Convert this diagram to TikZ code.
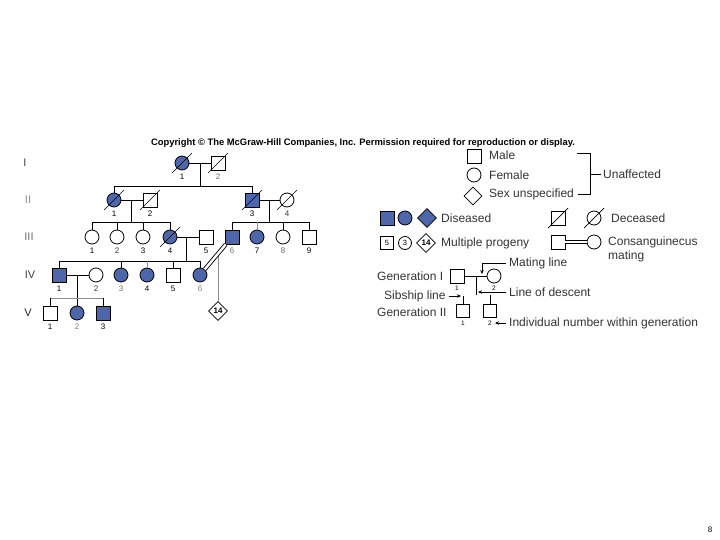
\documentclass[tikz,border=0pt]{standalone}
\usepackage{fontspec}
\setmainfont{Liberation Sans}
\usetikzlibrary{shapes.geometric,arrows.meta}
\definecolor{dis}{RGB}{78,102,170}
\tikzset{x=1pt,y=-1pt,
  male/.style={draw,rectangle,minimum size=14pt,inner sep=0pt,line width=.8pt,fill=white},
  fem/.style={draw,circle,minimum size=14pt,inner sep=0pt,line width=.8pt,fill=white},
  unk/.style={draw,diamond,minimum size=19pt,inner sep=0pt,line width=.8pt,fill=white},
  sick/.style={fill=dis},
  dead/.style={append after command={(\tikzlastnode.center)+(-10,10) edge[line width=.7pt] +(10,-10)}},
  num/.style={font=\fontsize{8}{9}\selectfont,inner sep=0pt},
  keynum/.style={font=\fontsize{6.5}{7}\selectfont,inner sep=0pt},
  lab/.style={font=\fontsize{12}{14}\selectfont,inner sep=0pt,anchor=west,text=black!80},
  gen/.style={font=\fontsize{11}{12}\selectfont,inner sep=0pt,text=black!75},
  line/.style={line width=.9pt},
  thin line/.style={line width=.6pt,black!45},
  tip/.style={line width=.6pt,-{Stealth[length=4pt,width=3.5pt]},shorten <=3pt}}
\begin{document}
\begin{tikzpicture}
\useasboundingbox (0,0) rectangle (720,540);
\node[font=\fontsize{9.4}{11}\selectfont\bfseries,inner sep=0pt] (copy) at (363,143) {Copyright © The McGraw-Hill Companies, Inc. Permission required for reproduction or display.};
\foreach \t/\x/\y/\n/\c in {I/25/163/a/75,II/28/200/b/45,III/29/237/c/55,IV/30/275/d/75,V/28/313/e/85}
  \node[gen,text=black!\c] (gen\n) at (\x,\y) {\t};
% coordinates for the junctions
\coordinate (a0) at (200,163); \coordinate (a1) at (200,186);
\coordinate (a2) at (114,186); \coordinate (a3) at (252,186);
\coordinate (b0) at (131,200); \coordinate (b1) at (131,222);
\coordinate (b2) at (92,222);  \coordinate (b3) at (170,222);
\coordinate (b4) at (269,200); \coordinate (b5) at (269,222);
\coordinate (b6) at (232,222); \coordinate (b7) at (309,222);
\coordinate (c0) at (186,237); \coordinate (c1) at (186,261);
\coordinate (c2) at (59,261);  \coordinate (c3) at (200,261);
\coordinate (d0) at (77,275);  \coordinate (d1) at (77,298);
\coordinate (d2) at (50,298);  \coordinate (d3) at (103,298);
\coordinate (e0) at (218,254);
% generation I
\node[fem,sick,dead] (i1) at (182,163) {};
\node[male,dead] (i2) at (218,163) {};
% generation II
\node[fem,sick,dead] (ii1) at (114,200) {};
\node[male,dead] (ii2) at (150,200) {};
\node[male,sick,dead] (ii3) at (252,200) {};
\node[fem,dead] (ii4) at (287,200) {};
% generation III
\node[fem] (iii1) at (92,237) {};
\node[fem] (iii2) at (117,237) {};
\node[fem] (iii3) at (143,237) {};
\node[fem,sick,dead] (iii4) at (170,237) {};
\node[male] (iii5) at (206,237) {};
\node[male,sick] (iii6) at (232,237) {};
\node[fem,sick] (iii7) at (257,237) {};
\node[fem] (iii8) at (283,237) {};
\node[male] (iii9) at (309,237) {};
% generation IV
\node[male,sick] (iv1) at (59,275) {};
\node[fem] (iv2) at (96,275) {};
\node[fem,sick] (iv3) at (121,275) {};
\node[fem,sick] (iv4) at (147,275) {};
\node[male] (iv5) at (173,275) {};
\node[fem,sick] (iv6) at (200,275) {};
% generation V
\node[male] (v1) at (50,313) {};
\node[fem,sick] (v2) at (77,313) {};
\node[male,sick] (v3) at (103,313) {};
\node[unk,font=\fontsize{8}{9}\selectfont\bfseries] (v4) at (218,311) {14};
% numbers
\foreach \m/\t/\c in {i1/1/100,i2/2/60,ii1/1/100,ii2/2/100,ii3/3/100,ii4/4/80,iii1/1/100,iii2/2/80,iii3/3/100,iii4/4/100,iii5/5/100,iii6/6/55,iii7/7/100,iii8/8/60,iii9/9/100,iv1/1/100,iv2/2/80,iv3/3/55,iv4/4/100,iv5/5/100,iv6/6/50,v1/1/100,v2/2/50,v3/3/100}
  \node[num,text=black!\c] (n\m) at ([yshift=-13.5pt]\m.center) {\t};
% lines
\draw[line] (i1) -- (i2);
\draw[line] (a0) -- (a1);
\draw[line] (ii1) -- (a2) -- (a3) -- (ii3);
\draw[line] (ii1) -- (ii2);
\draw[line] (b0) -- (b1);
\draw[line] (iii1) -- (b2) -- (b3) -- (iii4);
\draw[line] (iii2) -- (iii2 |- b2);
\draw[line] (iii3) -- (iii3 |- b2);
\draw[line] (ii3) -- (ii4);
\draw[line] (b4) -- (b5);
\draw[line] (iii6) -- (b6) -- (b7) -- (iii9);
\draw[thin line] (iii7) -- (iii7 |- b6);
\draw[line] (iii8) -- (iii8 |- b6);
\draw[line] (iii4) -- (iii5);
\draw[line] (c0) -- (c1);
\draw[line] (iv1) -- (c2) -- (c3) -- (iv6);
\draw[line] (iv3) -- (iv3 |- c2);
\draw[thin line] (iv4) -- (iv4 |- c2);
\draw[line] (iv5) -- (iv5 |- c2);
\draw[line] (iv1) -- (iv2);
\draw[line] (d0) -- (v2);
\draw[thin line] (d2) -- (d3);
\draw[line] (v1) -- (d2);
\draw[line] (v3) -- (d3);
\draw[thin line] (v4) -- (e0);
\draw[line,double,double distance=2.4pt] (iii6) -- (iv6);
% key, top
\node[male] (kmale) at (474,156) {};
\node[fem] (kfem) at (474,175) {};
\node[unk,minimum size=18pt] (kunk) at (473,196) {};
\node[lab] (tmale) at (489,155) {Male};
\node[lab] (tfem) at (489,175) {Female};
\node[lab] (tunk) at (489,194) {Sex unspecified};
\coordinate (b1a) at (577,153); \coordinate (b1b) at (590,153);
\coordinate (b2a) at (578,194); \coordinate (b2b) at (590,194);
\coordinate (b3a) at (590,174);
\node[lab] (tun) at (603,174) {Unaffected};
\draw[line] (b1a) -- (b1b) -- (b2b) -- (b2a);
\draw[line,shorten >=2pt] (b3a) -- (tun);
% key, middle
\node[male,sick] (ksq) at (387,218) {};
\node[fem,sick] (kci) at (405,218) {};
\node[unk,sick] (kdi) at (427,218) {};
\node[lab] (tdis) at (441,218) {Diseased};
\node[male,minimum size=13pt,font=\fontsize{7.5}{8}\selectfont] (ks5) at (387,243) {5};
\node[fem,minimum size=13pt,font=\fontsize{7.5}{8}\selectfont] (kc3) at (405,243) {3};
\node[unk,font=\fontsize{8}{9}\selectfont\bfseries] (kd14) at (426,243) {14};
\node[lab] (tmul) at (441,243) {Multiple progeny};
\node[male,dead] (kds) at (558,218) {};
\node[fem,dead] (kdc) at (594,218) {};
\node[lab] (tdec) at (611,218) {Deceased};
\node[male] (kcs) at (558,242) {};
\node[fem] (kcc) at (594,242) {};
\draw[line,double,double distance=2pt] (kcs) -- (kcc);
\node[lab,align=left] (tcon) at (608,249) {Consanguinecus\\mating};
% key, bottom
\node[male] (gs) at (457,276) {};
\node[fem] (gc) at (494,276) {};
\node[male,minimum size=13pt] (g1) at (463,311) {};
\node[male,minimum size=13pt] (g2) at (490,311) {};
\node[keynum] (ngs) at (457,288) {1};
\node[keynum] (ngc) at (494,288) {2};
\node[keynum] (ng1) at (463,323) {1};
\node[keynum] (ng2) at (490,323) {2};
\coordinate (g0) at (476,276); \coordinate (g3) at (476,295);
\coordinate (g4) at (463,296); \coordinate (g5) at (490,295);
\draw[line] (gs) -- (gc);
\draw[line] (g0) -- (g3);
\draw[line] (g1) -- (g4);
\draw[line] (g2) -- (g5);
\node[lab] (tg1) at (377,276) {Generation I};
\node[lab] (tsib) at (384,296) {Sibship line};
\node[lab] (tg2) at (377,312) {Generation II};
\node[lab] (tmat) at (509,263) {Mating line};
\node[lab] (tlin) at (509,292) {Line of descent};
\node[lab] (tind) at (509,323) {Individual number within generation};
\coordinate (m1) at (482,263);
\coordinate (m2) at (482,274);
\draw[line width=.6pt,shorten <=3pt] (tmat) -- (m1);
\draw[tip,shorten <=0pt] (m1) -- (m2);
\draw[tip] (tlin) -- (478,292);
\draw[tip] (tsib) -- (461,296);
\draw[tip,shorten >=3pt] (tind) -- (ng2);
\node[font=\fontsize{8}{9}\selectfont,inner sep=0pt] (page) at (710,530) {8};
\end{tikzpicture}
\end{document}
